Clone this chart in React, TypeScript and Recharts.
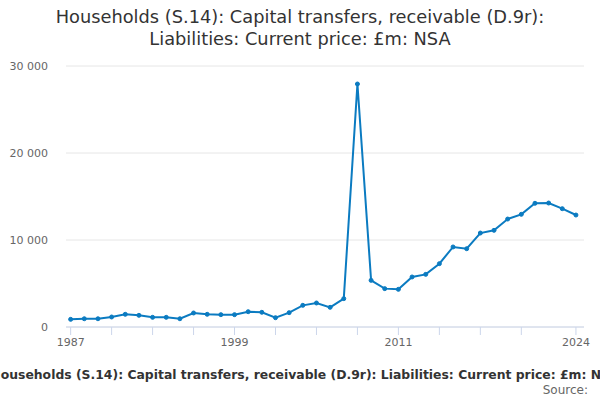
import React from "react";
import { LineChart, Line, XAxis, YAxis, CartesianGrid } from "recharts";

const years = [1987,1988,1989,1990,1991,1992,1993,1994,1995,1996,1997,1998,1999,2000,2001,2002,2003,2004,2005,2006,2007,2008,2009,2010,2011,2012,2013,2014,2015,2016,2017,2018,2019,2020,2021,2022,2023,2024];
const values = [880,950,950,1150,1460,1340,1110,1110,950,1610,1460,1420,1420,1760,1690,1070,1650,2490,2760,2260,3260,27930,5360,4410,4330,5750,6050,7280,9200,9000,10800,11110,12410,12950,14220,14250,13600,12870];
const xTicks = [1987,1990,1993,1996,1999,2002,2005,2008,2011,2014,2017,2020,2024];
const xLabels = [1987,1999,2011,2024];
const yTicks = [0,10000,20000,30000];

const titleLines = ["Households (S.14): Capital transfers, receivable (D.9r):", "Liabilities: Current price: £m: NSA"];
const seriesName = "Households (S.14): Capital transfers, receivable (D.9r): Liabilities: Current price: £m: NSA";

const data = years.map((y, i) => ({ year: y, value: values[i] }));

const font = "'DejaVu Sans', sans-serif";
const color = "#0b7bc1";

const fmtY = (v: number) => (v === 0 ? "0" : v.toLocaleString("en-US").replace(/,/g, " "));

export default function App() {
  return (
    <div style={{ position: "absolute", left: 0, top: 0, width: 600, height: 400, overflow: "hidden", background: "#fff", fontFamily: font }}>
      <div style={{ position: "absolute", top: 6, left: 0, width: 600, textAlign: "center", fontSize: 17.8, lineHeight: "22px", color: "#333" }}>
        {titleLines.map((t) => (
          <div key={t}>{t}</div>
        ))}
      </div>
      <LineChart width={600} height={400} data={data} margin={{ top: 66, right: 16, left: 0, bottom: 43 }}>
        <CartesianGrid horizontal={true} vertical={false} stroke="#e6e6e6" />
        <XAxis
          dataKey="year"
          type="number"
          domain={[1986.66, 2024.59]}
          ticks={xTicks}
          interval={0}
          height={30}
          tickFormatter={(v: number) => (xLabels.includes(v) ? String(v) : "")}
          tick={{ fill: "#666", fontSize: 11, fontFamily: font }}
          stroke="#ccd6eb"
          tickSize={8}
          tickMargin={3}
          axisLine={{ stroke: "#ccd6eb" }}
          tickLine={{ stroke: "#ccd6eb" }}
        />
        <YAxis
          type="number"
          domain={[0, 30000]}
          ticks={yTicks}
          width={66}
          axisLine={false}
          tickLine={false}
          tickMargin={12}
          tickFormatter={fmtY}
          tick={{ fill: "#666", fontSize: 11, fontFamily: font }}
        />
        <Line
          dataKey="value"
          stroke={color}
          strokeWidth={2}
          dot={{ r: 2, fill: color, stroke: color, strokeWidth: 1 }}
          isAnimationActive={false}
        />
      </LineChart>
      <div style={{ position: "absolute", top: 367, left: -195, width: 1000, textAlign: "center", fontSize: 12.4, fontWeight: "bold", color: "#333", whiteSpace: "nowrap" }}>
        {seriesName}
      </div>
      <div style={{ position: "absolute", top: 383, right: 12, fontSize: 12, color: "#666" }}>Source:</div>
    </div>
  );
}
